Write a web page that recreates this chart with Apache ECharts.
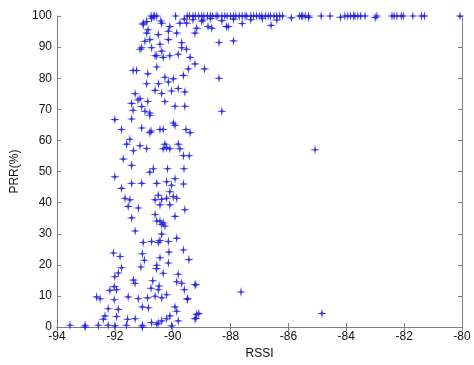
<!DOCTYPE html>
<html><head><meta charset="utf-8">
<script src="https://cdn.jsdelivr.net/npm/echarts@6/dist/echarts.min.js"></script>
<style>html,body{margin:0;padding:0;background:#fff}#c{width:474px;height:365px}</style>
</head><body><div id="c"></div>
<script>
// Scattered cloud: RSSI (dBm) and PRR (%)
const cloudRssi = [
-90.73,-91.02,-90.85,-90.79,-91.07,-90.73,-90.5,-90.55,-90.41,-90.1,-89.75,-89.52,-89.17,-88.65,-88.08,-90.15,-89.86,-89.23,-88.4,-87.9,-86.6,-90.44,-90.15,-89.69,-90.38,-89.69,-89.52,-90.61,-90.33,-90.1,-89.81,-89.4,-90.38,-88.95,-88.14,-87.6,-89.3,-90.9,-91.13,-91.02,-90.67,-90.9,-90.96,-88.78,
-91.25,-91.37,-90.86,-90.55,-90.61,-91.3,-91.2,-91.42,-90.86,-91.07,-91.37,-90.79,-88.9,-88.4,-88.3,-89.23,-90.27,-89.98,-89.63,-89.46,-90.49,-90.15,-90.38,-90.04,-89.81,-89.58,-90.27,-89.92,-89.58,-90.9,-91.13,-90.96,-90.79,-92.0,-91.42,-91.77,-91.07,-90.79,-90.75,-90.44,-90.33,-89.98,-89.92,-89.54,-89.4,-91.48,-91.13,-90.9,-91.59,-91.36,-90.27,-90.21,-90.33,-90.1,-89.81,-89.75,-89.63,-89.43,-91.71,-91.42,-90.79,-90.67,-90.18,-89.61,-92.0,-91.42,-91.07,-91.77,-90.55,-90.21,-89.92,-90.04,-89.63,-85.08,
-91.65,-91.48,-91.54,-91.19,-90.61,-90.5,-90.38,-90.21,-90.1,-89.98,-89.86,-90.44,-90.1,-89.58,-91.42,-90.61,-90.55,-90.44,-90.33,-89.92,-91.3,-90.38,
-90.27,-90.38,-90.44,-90.15,-89.86,-90.13,-89.63,-90.44,-90.15,-89.44,-90.56,-90.33,-89.81,-90.47,-89.86,-89.69,-89.6,-89.23,-90.38,-90.21,-89.48,-89.92,-89.86,-89.17,-89.23,-90.38,-90.21,-90.1,-90.04,-89.81,-90.55,
-91.02,-90.73,-90.5,-92.05,-91.82,-91.05,-90.98,-91.77,-91.88,-91.1,-90.55,-92.0,-91.36,-91.3,-90.69,-92.02,-92.17,-91.94,-90.75,-90.5,-92.63,-92.51,-92.02,-91.54,-91.19,-90.87,-90.61,-92.23,-91.88,-91.05,-90.84,-92.34,-91.94,-92.4,-91.56,-91.3,-93.55,-93.03,-93.03,-92.57,-92.23,-92.0,-91.6,-91.05,-91.05,-90.73,-90.5,
-87.64,-84.84,-89.1,-89.2,-89.2,-89.5,
-89.6,-89.0,-88.7,-88.3,-87.9,-87.3,-86.9,-86.4,-85.9,-85.3,-84.2,-83.0
];
const cloudPrr = [
99.3,97.2,95.6,92.4,89.8,89.8,94,87.2,98.4,96.6,97.7,97.7,96.1,96.1,96.6,95.1,94.5,94.5,91.5,92,97,90.9,92.4,91.4,88.7,89.8,89.3,87.2,86.7,87.2,87.7,86.7,97.7,98.7,96.6,97.6,98.8,98.2,89.3,97.7,99.8,94.5,91.9,96.6,
82.5,82.5,81.4,83.6,76.1,75,73,71.9,72.5,70.9,69.7,68.8,83,80,69.4,84.6,80.3,79.8,80.9,83,78.2,78.8,75.1,75.9,76.7,75.6,72.5,71,71,78.2,73.5,69.4,68.1,66.7,66.9,63.5,64,62.5,63,63.5,63.5,65.6,64.9,63.5,62.5,60.4,58.3,57.4,58.8,56.7,58.8,57.7,57.3,57.3,58.8,57.3,55.1,55.1,54,52,49.8,50.9,50.9,50.9,48.3,46.2,46.2,44.6,46.2,46.7,47.7,45.6,46,57,
41.4,40.9,38.8,38.3,40.9,42.4,41.1,41.4,43.5,42,41.4,39.3,39.3,37.7,35.1,36.2,34.1,34.1,33.5,35.6,30.9,33,
32.5,29.9,27.8,27.5,28.6,24.1,24.8,22.3,20.6,21.7,18.8,17.3,17,13.2,14.6,14.1,12,13.6,9.4,10.4,9.1,6.5,5.1,4.1,2.7,2,2.7,3.6,0.4,2,0.9,
27.2,27.5,27.2,23.8,22.7,23.6,21.5,19.1,17.4,19.3,19.9,16.2,15.1,14.1,14.9,13,11.8,12,12.5,12,9.7,9.1,8.8,9.7,9.1,9.4,9.9,5.9,5.7,6.5,6.2,3.6,3.4,2.5,2.5,2.7,0.6,0.6,0,0.6,0.6,0.4,0.6,0.6,0,1.5,1.3,
11.3,4.4,4.4,2.8,13.6,9,
99,98.3,99.2,98.5,99,98.8,99.3,98.7,99.4,99.5,99.6,99.5
];
// Links with PRR = 100 %
const fullRssi = [
-90.75,-90.62,-90.55,-89.9,-89.5,-89.42,-89.3,-89.22,-89.1,-89.0,-88.92,-88.8,-88.7,-88.62,-88.5,-88.44,-88.3,-88.2,-88.12,-88.0,-87.9,-87.82,-87.7,-87.6,-87.5,-87.44,-87.3,-87.2,-87.1,-87.0,-86.92,-86.8,-86.7,-86.62,-86.5,-86.4,-86.3,-86.2,-85.62,-85.55,-85.5,-85.42,-85.3,-84.87,-84.56,-84.05,-83.95,-83.85,-83.75,-83.7,-83.6,-83.5,-83.35,-82.94,-82.42,-82.35,-82.25,-82.1,-82.03,-81.7,-81.4,-81.3,-80.07
];
const fullPrr = fullRssi.map(() => 100);

const xTicks = { min: -94, max: -80, interval: 2 };
const yTicks = { min: 0, max: 100, interval: 10 };

const pts = cloudRssi.map((x, i) => [x, cloudPrr[i]]).concat(fullRssi.map((x, i) => [x, fullPrr[i]]));

const chart = echarts.init(document.getElementById('c'), null, { renderer: 'canvas' });
const font = 'Liberation Sans, Arial, sans-serif';
const axCommon = {
  axisLine: { show: true, lineStyle: { color: '#7f7f7f', width: 1 } },
  axisTick: { show: true, inside: true, length: 4, lineStyle: { color: '#7f7f7f' } },
  splitLine: { show: false },
};
chart.setOption({
  animation: false,
  backgroundColor: '#fff',
  grid: { left: 57, right: 12, top: 16, bottom: 32 },
  xAxis: [
    Object.assign({ type: 'value', position: 'bottom', min: xTicks.min, max: xTicks.max, interval: xTicks.interval,
      name: 'RSSI', nameLocation: 'middle', nameGap: 17,
      nameTextStyle: { color: '#111', fontSize: 12, fontFamily: font },
      axisLabel: { color: '#111', fontSize: 12, fontFamily: font, margin: 4 } }, axCommon),
    Object.assign({ type: 'value', position: 'top', min: xTicks.min, max: xTicks.max, interval: xTicks.interval,
      axisLabel: { show: false } }, axCommon)
  ],
  yAxis: [
    Object.assign({ type: 'value', position: 'left', min: yTicks.min, max: yTicks.max, interval: yTicks.interval,
      name: 'PRR(%)', nameLocation: 'middle', nameGap: 33, nameRotate: 90,
      nameTextStyle: { color: '#111', fontSize: 12, fontFamily: font },
      axisLabel: { color: '#111', fontSize: 12, fontFamily: font, margin: 5 } }, axCommon),
    Object.assign({ type: 'value', position: 'right', min: yTicks.min, max: yTicks.max, interval: yTicks.interval,
      axisLabel: { show: false } }, axCommon)
  ],
  series: [{
    type: 'scatter',
    data: pts,
    symbol: 'path://M0,-10 L1.6,-1.6 L10,0 L1.6,1.6 L0,10 L-1.6,1.6 L-10,0 L-1.6,-1.6 Z',
    symbolSize: 10,
    itemStyle: { color: '#1a1ae6', opacity: 0.9 },
    clip: false
  }]
});
</script></body></html>
